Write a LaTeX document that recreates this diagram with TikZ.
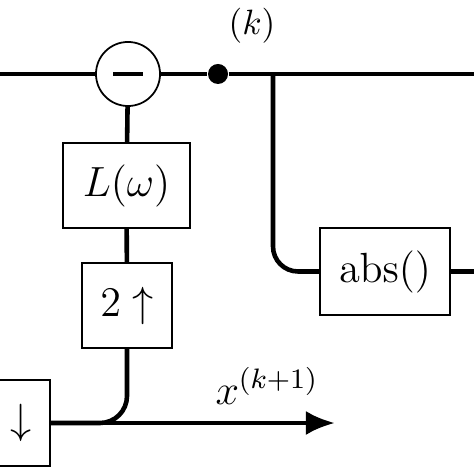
\documentclass[tikz,border=0pt]{standalone}
\usetikzlibrary{arrows.meta}
\begin{document}
\begin{tikzpicture}[x=0.01cm,y=-0.01cm,every node/.style={font=\large},
  sig/.style={line width=1.3pt},
  blk/.style={draw,line width=0.5pt,fill=white,inner sep=0pt},
  sum/.style={draw,circle,line width=0.5pt,fill=white,minimum size=0.64cm},
  dot/.style={circle,fill,inner sep=0pt,minimum size=0.2cm}]
\clip (0,0) rectangle (474,474);
\coordinate (in) at (-20,74);
\coordinate (out) at (500,74);
\coordinate (br) at (273,74);
\coordinate (tip) at (335,423);
\coordinate (absout) at (500,271.5);
\node[sum] (sub) at (128,74) {};
\node[dot] (tap) at (218,74) {};
\node[font=\Large] at (252,26) {$\scriptstyle (k)$};
\node[blk,minimum width=1.27cm,minimum height=0.85cm] (filt) at (126.5,185.5) {$L(\omega)$};
\node[blk,minimum width=0.9cm,minimum height=0.85cm] (up) at (127,305.5) {$2\uparrow$};
\node[blk,minimum width=1.3cm,minimum height=0.87cm] (abs) at (385,271.5) {$\mathrm{abs}()$};
\node[blk,minimum width=0.9cm,minimum height=0.86cm] (down) at (5,423) {$2\downarrow$};
\node (xnext) at (267,386) {$x^{(k+1)}$};
\draw[sig] (in) -- (sub) -- (tap) -- (out);
\draw[sig] ([xshift=-0.145cm]sub.center) -- ([xshift=0.145cm]sub.center);
\draw[sig] (sub) -- (filt);
\draw[sig] (filt) -- (up);
\draw[sig,rounded corners=0.25cm] (br) |- (abs.west);
\draw[sig] (abs.east) -- (absout);
\draw[sig,rounded corners=0.27cm] (up.south) |- (down.east);
\draw[sig,-{Latex[length=0.29cm,width=0.24cm]}] (down.east) -- (tip);
\end{tikzpicture}
\end{document}
